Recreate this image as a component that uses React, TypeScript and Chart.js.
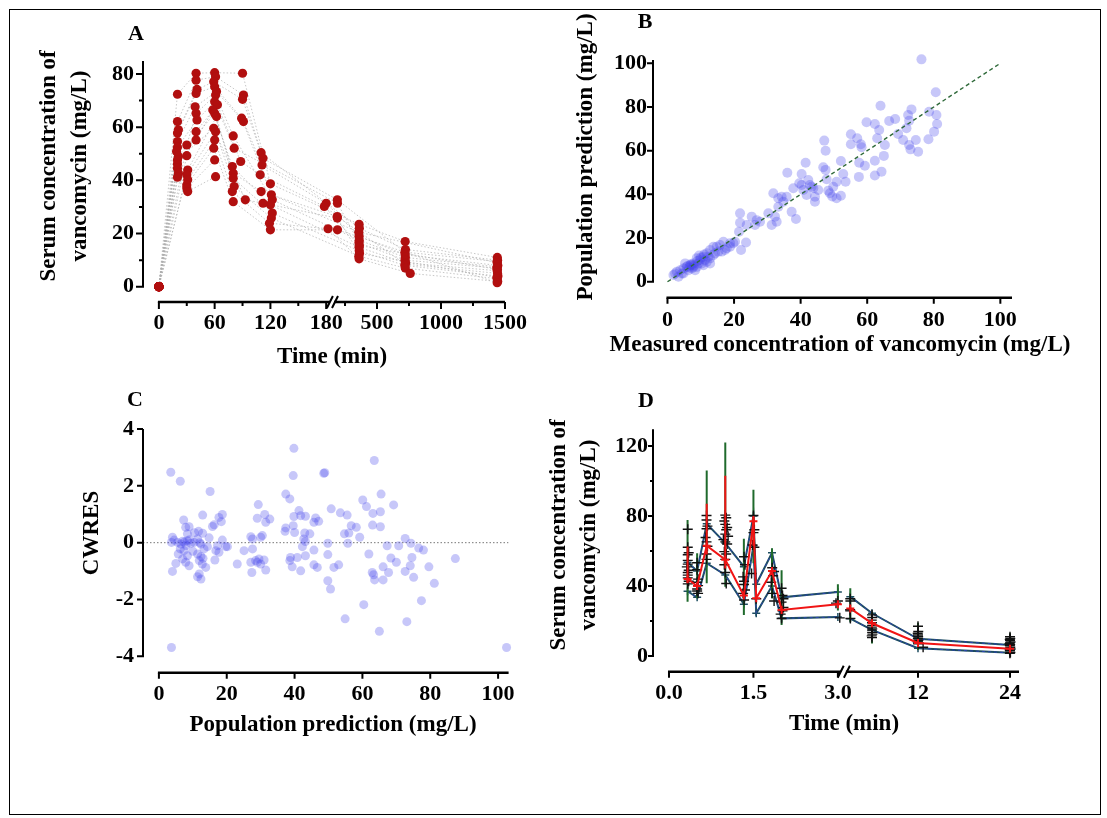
import React, { useEffect, useRef } from 'react';
import { Chart, registerables } from 'chart.js';

Chart.register(...registerables);

const W = 1107;
const H = 818;
const FONT = "'Liberation Serif', 'Times New Roman', serif";
const Y_BOX = 80; // width reserved for y tick labels
const X_BOX = 44; // height reserved for x tick labels

// ---------------- Panel A: individual concentration-time profiles (min) ----------------
const A_SUBJECT_TIMES: number[][] = [
  [0, 20, 40, 60, 90, 120, 360, 720, 1440],
  [0, 20, 40, 61, 91, 110, 362, 722, 1442],
  [0, 21, 41, 59, 90, 112, 190, 718, 1438],
  [0, 20, 40, 60, 89, 121, 358, 1440],
  [0, 20, 39, 62, 91, 111, 180, 360, 720, 1444],
  [0, 30, 40, 61, 80, 122, 361, 721, 1440],
  [0, 20, 41, 60, 81, 191, 359, 719, 1436],
  [0, 30, 40, 63, 88, 109, 178, 362, 1441],
  [0, 19, 40, 58, 79, 120, 360, 723, 1439],
  [0, 21, 60, 80, 110, 189, 720, 1442],
  [0, 31, 62, 80, 122, 361, 718, 1445],
  [0, 20, 59, 93, 112, 190, 363, 1437],
  [0, 30, 61, 81, 121, 358, 721, 1440],
  [0, 20, 31, 60, 79, 119, 182, 360, 760, 1443],
  [0, 20, 30, 59, 80, 120, 191, 1439],
  [0, 21, 30, 60],
  [0, 20, 31, 61],
];
const A_SUBJECT_CONC: number[][] = [
  [0, 72.4, 80.3, 80.5, 80.3, 38.7, 23.5, 17, 11],
  [0, 62.1, 77.7, 79, 72.1, 50.4, 22, 14, 10],
  [0, 59.0, 74.2, 77.1, 70.5, 48.3, 32.7, 13, 9.5],
  [0, 57.8, 72.7, 75.2, 63.4, 34.6, 20.5, 9],
  [0, 54.6, 67.7, 73.4, 62.1, 45.8, 31.4, 19, 12, 8],
  [0, 53.3, 65.2, 72.1, 56.7, 32.7, 17.5, 11, 7.5],
  [0, 52.5, 62.7, 69.6, 52.1, 31.4, 16.5, 10, 7],
  [0, 49.3, 58.3, 68.4, 47.1, 42.1, 30.2, 15.5, 6.5],
  [0, 50.9, 55.2, 66.5, 45.2, 30.8, 14.8, 9, 6],
  [0, 49.0, 65.2, 42.7, 35.8, 26.4, 8.5, 5],
  [0, 43.9, 64, 40.8, 27.7, 13.5, 8, 4],
  [0, 47.7, 59.6, 32.7, 31.4, 25.8, 12.5, 3.5],
  [0, 42.1, 58.3, 37.7, 25.8, 11.5, 7, 3],
  [0, 46.2, 40.2, 55.2, 35.8, 23.9, 21.8, 10.5, 5, 2],
  [0, 44.6, 38.3, 52.1, 32.0, 21.4, 21.4, 1.5],
  [0, 42.7, 37.1, 47.7],
  [0, 41.2, 35.8, 41.4],
];
const A_X_TICKS = [0, 60, 120, 180, 500, 1000, 1500];
const A_X_LABELS = ['0', '60', '120', '180', '500', '1000', '1500'];
const A_X_MINOR = [30, 90, 150, 250, 750, 1250];
const A_Y_TICKS = [0, 20, 40, 60, 80];
const A_Y_LABELS = ['0', '20', '40', '60', '80'];
const A_Y_MINOR = [10, 30, 50, 70];

// ---------------- Panel B: PRED vs observed ----------------
const B_MEASURED = [
  76.3, 80.6, 64.0, 73.3, 72.3, 72.6, 78.6, 80.8, 81.0, 59.8, 62.3, 66.6, 68.4, 63.6, 55.1, 57.0, 55.1, 58.1, 58.3, 63.0,
  65.3, 69.3, 70.8, 74.6, 72.6, 73.0, 75.3, 78.4, 80.1, 65.0, 62.3, 57.6, 59.3, 57.5, 62.3, 64.3, 47.1, 47.5, 41.5, 36.0,
  40.3, 46.8, 47.5, 52.1, 52.8, 53.5, 50.8, 47.8, 42.3, 42.8, 39.6, 37.8, 43.8, 44.3, 40.8, 41.8, 48.3, 48.8, 49.8, 50.8,
  52.1, 44.3, 35.8, 33.3, 31.8, 34.8, 37.3, 38.6, 30.3, 32.3, 32.8, 31.3, 21.8, 21.8, 23.8, 25.3, 26.8, 26.3, 27.8, 21.5,
  23.6, 22.1, 20.3, 18.8, 16.8, 15.8, 17.8, 16.3, 14.8, 13.8, 12.8, 11.8, 14.3, 10.8, 9.8, 8.8, 7.8, 6.8, 5.8, 4.8,
  3.8, 2.8, 1.8, 3.3, 4.8, 6.3, 7.3, 8.8, 10.3, 11.3, 12.3, 8.3, 5.3, 4.3, 2.3, 7.3, 7.8, 9.3, 10.8, 11.8,
  12.8, 13.8, 15.3, 17.3, 18.8, 19.8, 12.8, 40.3, 43.3, 45.3, 49.5, 33.3, 34.3, 71.8, 6.0, 7.0, 9.0, 10.0, 8.0, 6.5,
  11.0, 9.5,
];
const B_PRED = [
  101.8, 86.7, 80.6, 78.9, 76.3, 73.7, 77.8, 76.3, 72.2, 73.0, 72.2, 73.6, 74.5, 69.5, 67.5, 65.7, 62.9, 62.9, 61.6, 65.7,
  62.6, 67.6, 64.9, 64.9, 62.6, 60.6, 59.5, 65.2, 68.7, 57.6, 55.4, 54.5, 53.1, 48.0, 48.6, 50.4, 64.6, 60.0, 54.5, 49.9,
  49.3, 52.4, 51.2, 55.3, 49.3, 45.8, 45.8, 46.9, 46.6, 44.3, 45.1, 42.8, 42.8, 38.9, 42.0, 39.7, 41.7, 40.5, 43.5, 38.2,
  39.4, 36.6, 38.9, 38.2, 40.5, 36.6, 32.0, 28.7, 31.3, 29.8, 27.5, 26.0, 31.3, 27.0, 26.0, 29.8, 28.2, 26.0, 27.5, 22.9,
  18.0, 14.5, 18.3, 17.6, 18.3, 16.8, 15.3, 13.8, 16.0, 16.0, 14.5, 13.0, 13.0, 11.5, 10.0, 10.8, 8.4, 7.6, 6.8, 6.1,
  5.3, 4.6, 3.1, 2.3, 3.8, 5.3, 6.1, 6.8, 8.4, 9.9, 11.5, 5.3, 8.4, 3.8, 3.8, 7.6, 6.8, 8.4, 7.6, 9.1,
  10.7, 12.2, 13.8, 14.5, 16.0, 17.6, 8.4, 44.3, 43.5, 42.0, 39.0, 34.3, 38.9, 70.3, 7.2, 8.0, 9.5, 11.0, 7.5, 6.5,
  12.5, 12.0,
];
const B_IDENTITY = [0, 100];
const B_TICKS = [0, 20, 40, 60, 80, 100];
const B_LABELS = ['0', '20', '40', '60', '80', '100'];

// ---------------- Panel C: CWRES vs PRED ----------------
const C_PRED = [
  39.8, 63.5, 3.5, 6.3, 48.6, 48.9, 39.6, 15.1, 37.4, 38.6, 65.5, 60.1, 61.2, 69.2, 29.3, 50.8, 53.5, 55.5, 63.1, 65.3,
  12.9, 41.3, 41.8, 43.2, 39.8, 31.2, 29.0, 32.7, 31.5, 7.3, 7.9, 8.9, 8.4, 18.7, 17.7, 18.4, 16.3, 15.8, 12.9, 11.7,
  37.4, 37.2, 39.6, 40.0, 46.2, 47.1, 45.7, 54.7, 56.0, 56.7, 58.2, 63.0, 65.3, 59.2, 43.0, 44.5, 42.7, 43.2, 42.3, 27.1,
  27.6, 30.0, 30.5, 4.0, 4.5, 5.5, 3.7, 7.0, 8.4, 9.4, 10.4, 11.4, 12.4, 13.3, 14.8, 14.3, 17.3, 18.7, 19.7, 6.3,
  7.4, 5.7, 8.4, 7.0, 7.9, 8.9, 5.0, 4.0, 11.4, 12.4, 11.9, 12.8, 13.8, 11.9, 12.4, 11.4, 16.8, 17.7, 16.5, 20.2,
  23.1, 25.1, 27.6, 27.1, 28.5, 29.5, 29.0, 30.0, 31.0, 31.5, 27.4, 38.8, 40.8, 38.6, 39.3, 43.2, 45.7, 45.7, 46.7, 41.8,
  49.8, 49.8, 49.8, 50.6, 51.6, 53.0, 55.7, 61.9, 62.9, 63.3, 63.6, 66.1, 66.1, 67.7, 67.3, 68.4, 70.0, 70.7, 72.6, 74.3,
  74.6, 74.1, 72.6, 75.1, 76.6, 78.0, 79.6, 81.2, 77.4, 73.1, 65.0, 60.4, 54.9, 87.4, 102.5, 3.7, 7.5, 8.0, 9.0, 6.5,
  10.0, 10.5, 12.0, 13.0,
];
const C_CWRES = [
  3.32, 2.89, 2.48, 2.16, 2.44, 2.46, 2.36, 1.80, 1.71, 1.54, 1.71, 1.50, 1.27, 1.33, 1.34, 1.19, 1.05, 0.97, 1.03, 1.09,
  0.97, 1.13, 0.95, 0.93, 0.92, 0.99, 0.86, 0.83, 0.72, 0.80, 0.54, 0.56, 0.31, 0.99, 0.89, 0.74, 0.63, 0.57, 0.33, 0.40,
  0.52, 0.40, 0.60, 0.36, 0.87, 0.75, 0.72, 0.31, 0.34, 0.60, 0.54, 0.62, 0.56, 0.19, 0.34, 0.31, 0.13, 0.04, -0.14, 0.21,
  0.13, 0.19, 0.25, 0.19, 0.09, 0.01, 0.01, 0.05, 0.07, -0.02, 0.01, 0.13, -0.05, -0.22, 0.17, -0.14, -0.11, 0.09, -0.14, -0.22,
  -0.28, -0.40, -0.46, -0.57, -0.69, -0.81, -0.73, -1.01, -0.40, -0.49, -0.63, -0.75, -0.87, -1.10, -1.28, -1.20, -0.28, -0.34, -0.61, -0.14,
  -0.75, -0.28, -0.22, -0.69, -0.63, -0.57, -0.69, -0.75, -0.61, -0.96, -1.05, -0.52, -0.52, -0.63, -0.85, -0.46, -0.26, -0.78, -0.87, -0.99,
  -0.02, -0.42, -1.34, -1.63, -0.87, -0.78, -0.02, -0.40, -1.05, -1.13, -1.31, -0.85, -1.31, -1.05, -0.11, -0.54, -0.69, -0.11, 0.15, -0.02,
  -0.52, -0.81, -1.01, -1.22, -0.19, -0.26, -0.85, -1.43, -2.04, -2.78, -3.12, -2.18, -2.68, -0.56, -3.69, -3.69, 0.02, -0.1, 0.1, -0.05,
  -0.3, 0.35, 0.0, -0.55,
];
const C_ZERO_X = [-4.69, 103.1];
const C_X_TICKS = [0, 20, 40, 60, 80, 100];
const C_X_LABELS = ['0', '20', '40', '60', '80', '100'];
const C_Y_TICKS = [-4, -2, 0, 2, 4];
const C_Y_LABELS = ['-4', '-2', '0', '2', '4'];

// ---------------- Panel D: VPC (hours) ----------------
const VPC_T = [0.33, 0.5, 0.67, 1.0, 1.33, 1.5, 1.55, 1.83, 2.0, 3.0, 3.17, 6, 12, 24];
const VPC_P95 = [53.5, 48.5, 75.5, 64.5, 51, 80, 41, 59, 33.5, 36.5, 33.9, 24.4, 9.8, 6.3];
const VPC_P50 = [44, 40, 63, 55, 34.5, 77, 33, 48.5, 26.3, 29.5, 27.2, 18.7, 7.4, 4.2];
const VPC_P05 = [37, 33.5, 53, 46.3, 29.5, 63, 24.4, 40, 21.5, 22.3, 21.3, 14.9, 4.4, 1.8];
const CI_T = [0.33, 0.5, 0.67, 1.0, 1.33, 1.5, 1.83, 2.0, 3.0, 3.17, 6, 12, 24];
const CI_LO = [31, 33, 41.5, 39.6, 23.4, 53, 33, 17.7, 26, 19.6, 7.2, 3.4, 0.6];
const CI_HI = [77.7, 58.7, 106, 122, 67, 95, 61.5, 49, 41, 38.7, 25.3, 19, 13];
const MED_CI_T = [0.33, 0.67, 1.0, 1.5];
const MED_CI_LO = [41.5, 58, 50, 63];
const MED_CI_HI = [62.6, 87, 103, 80];
const D_X_TICKS_H = [0, 1.5, 3, 12, 24];
const D_X_LABELS = ['0.0', '1.5', '3.0', '12', '24'];
const D_Y_TICKS = [0, 40, 80, 120];
const D_Y_LABELS = ['0', '40', '80', '120'];
const D_Y_MINOR = [20, 60, 100];

// ---------------- broken-axis transforms ----------------
const A_BREAK = 185;
const aMap = (t: number) => (t <= A_BREAK ? t : 234.7 + (t - 500) * 0.1377);
const D_BREAK = 3.05;
const dMap = (t: number) => (t <= D_BREAK ? t : 4.423 + (t - 12) * 0.1362);

// ---------------- plugins ----------------
type AxisCfg = {
  x: { from: number; to: number; major: number[]; minor?: number[]; brk?: [number, number]; len: number };
  y: { from: number; to: number; major: number[]; minor?: number[]; len: number };
};

function makeAxesPlugin(cfg: AxisCfg) {
  return {
    id: 'prismAxes',
    afterDraw(chart: any) {
      const { ctx, chartArea } = chart;
      const xs = chart.scales.x;
      const ys = chart.scales.y;
      ctx.save();
      ctx.strokeStyle = '#000';
      ctx.lineCap = 'butt';
      const X = chartArea.left;
      ctx.lineWidth = 2;
      ctx.beginPath();
      ctx.moveTo(X, ys.getPixelForValue(cfg.y.to));
      ctx.lineTo(X, ys.getPixelForValue(cfg.y.from) + 1);
      cfg.y.major.forEach((v) => {
        const p = ys.getPixelForValue(v);
        ctx.moveTo(X, p);
        ctx.lineTo(X - cfg.y.len, p);
      });
      (cfg.y.minor || []).forEach((v) => {
        const p = ys.getPixelForValue(v);
        ctx.moveTo(X, p);
        ctx.lineTo(X - Math.round(cfg.y.len * 0.55), p);
      });
      ctx.stroke();
      const Y = chartArea.bottom;
      ctx.lineWidth = 2.5;
      ctx.beginPath();
      const segs: [number, number][] = cfg.x.brk
        ? [
            [cfg.x.from, cfg.x.brk[0]],
            [cfg.x.brk[1], cfg.x.to],
          ]
        : [[cfg.x.from, cfg.x.to]];
      segs.forEach(([a, b]) => {
        ctx.moveTo(xs.getPixelForValue(a) - 1, Y);
        ctx.lineTo(xs.getPixelForValue(b), Y);
      });
      ctx.stroke();
      ctx.lineWidth = 2;
      ctx.beginPath();
      cfg.x.major.forEach((v) => {
        const p = xs.getPixelForValue(v);
        ctx.moveTo(p, Y);
        ctx.lineTo(p, Y + cfg.x.len);
      });
      (cfg.x.minor || []).forEach((v) => {
        const p = xs.getPixelForValue(v);
        ctx.moveTo(p, Y);
        ctx.lineTo(p, Y + Math.round(cfg.x.len * 0.6));
      });
      if (cfg.x.brk) {
        cfg.x.brk.forEach((v) => {
          const p = xs.getPixelForValue(v);
          ctx.moveTo(p - 3, Y + 6);
          ctx.lineTo(p + 3, Y - 6);
        });
      }
      ctx.stroke();
      ctx.restore();
    },
  };
}

type TextItem = { text: string; x: number; y: number; size: number; rotate?: boolean };

function makeTextPlugin(items: TextItem[]) {
  return {
    id: 'panelText',
    afterDraw(chart: any) {
      const { ctx } = chart;
      ctx.save();
      ctx.fillStyle = '#000';
      ctx.textAlign = 'center';
      ctx.textBaseline = 'middle';
      items.forEach((it) => {
        ctx.font = `bold ${it.size}px ${FONT}`;
        ctx.save();
        ctx.translate(it.x, it.y);
        if (it.rotate) ctx.rotate(-Math.PI / 2);
        ctx.fillText(it.text, 0, 0);
        ctx.restore();
      });
      ctx.restore();
    },
  };
}

function scaleCfg(axis: 'x' | 'y', min: number, max: number, tickVals: number[], labels: string[], padding: number) {
  return {
    type: 'linear',
    min,
    max,
    grid: { display: false, drawTicks: false },
    border: { display: false },
    ticks: {
      autoSkip: false,
      padding,
      color: '#000',
      maxRotation: 0,
      minRotation: 0,
      font: { family: FONT, size: 22, weight: 'bold' },
      callback: (_v: any, i: number) => labels[i],
    },
    afterBuildTicks: (s: any) => {
      s.ticks = tickVals.map((v) => ({ value: v }));
    },
    afterFit: (s: any) => {
      if (axis === 'x') s.height = X_BOX;
      else s.width = Y_BOX;
    },
  };
}

function baseOptions(area: { l: number; t: number; r: number; b: number }, scales: any) {
  return {
    responsive: false,
    animation: false,
    devicePixelRatio: 1,
    events: [],
    layout: { padding: { left: area.l - Y_BOX, top: area.t, right: W - area.r, bottom: H - area.b - X_BOX } },
    plugins: { legend: { display: false }, tooltip: { enabled: false } },
    scales,
  };
}

// ---------------- chart builders ----------------
function buildA(canvas: HTMLCanvasElement) {
  const points: { x: number; y: number }[] = [];
  A_SUBJECT_TIMES.forEach((ts, i) => ts.forEach((t, j) => points.push({ x: aMap(t), y: A_SUBJECT_CONC[i][j] })));
  const lines = A_SUBJECT_TIMES.map((ts, i) => ({
    showLine: true,
    data: ts.map((t, j) => ({ x: aMap(t), y: A_SUBJECT_CONC[i][j] })),
    borderColor: 'rgba(175,175,175,0.7)',
    borderWidth: 1,
    borderDash: [1.5, 2],
    pointRadius: 0,
  }));
  return new Chart(canvas, {
    type: 'scatter',
    data: {
      datasets: [
        { data: points, pointRadius: 4.6, backgroundColor: '#b10f0f', borderWidth: 0, clip: false },
        ...lines,
      ],
    },
    options: baseOptions({ l: 143, t: 61, r: 506, b: 302 }, {
      x: scaleCfg('x', -17.1, 373.5, A_X_TICKS.map(aMap), A_X_LABELS, 8),
      y: scaleCfg('y', -5.75, 84.9, A_Y_TICKS, A_Y_LABELS, 9),
    }) as any,
    plugins: [
      makeAxesPlugin({
        x: { from: 0, to: aMap(1500), major: A_X_TICKS.map(aMap), minor: A_X_MINOR.map(aMap), brk: [184, 189.5], len: 7 },
        y: { from: 0, to: 84.9, major: A_Y_TICKS, minor: A_Y_MINOR, len: 7 },
      }),
      makeTextPlugin([
        { text: 'A', x: 136, y: 34, size: 22 },
        { text: 'Time (min)', x: 332, y: 357, size: 23 },
        { text: 'Serum concentration of', x: 49, y: 166, size: 23, rotate: true },
        { text: 'vancomycin (mg/L)', x: 80, y: 166, size: 23, rotate: true },
      ]),
    ],
  });
}

function buildB(canvas: HTMLCanvasElement) {
  const pts = B_MEASURED.map((m, i) => ({ x: m, y: B_PRED[i] }));
  return new Chart(canvas, {
    type: 'scatter',
    data: {
      datasets: [
        {
          showLine: true,
          data: B_IDENTITY.map((v) => ({ x: v, y: v })),
          borderColor: '#2f6a3a',
          borderWidth: 1.4,
          borderDash: [4, 3],
          pointRadius: 0,
        },
        { data: pts, pointRadius: 5, backgroundColor: 'rgba(70,70,235,0.3)', borderWidth: 0, clip: false },
      ],
    },
    options: baseOptions({ l: 653, t: 60, r: 1012, b: 297.7 }, {
      x: scaleCfg('x', -4.35, 103.5, B_TICKS, B_LABELS, 9),
      y: scaleCfg('y', -7.3, 101.5, B_TICKS, B_LABELS, 6),
    }) as any,
    plugins: [
      makeAxesPlugin({
        x: { from: 0, to: 103.5, major: B_TICKS, len: 6 },
        y: { from: 0, to: 101.5, major: B_TICKS, len: 6 },
      }),
      makeTextPlugin([
        { text: 'B', x: 645, y: 22, size: 22 },
        { text: 'Measured concentration of vancomycin (mg/L)', x: 840, y: 345, size: 23 },
        { text: 'Population prediction (mg/L)', x: 586, y: 157, size: 23, rotate: true },
      ]),
    ],
  });
}

function buildC(canvas: HTMLCanvasElement) {
  const pts = C_PRED.map((p, i) => ({ x: p, y: C_CWRES[i] }));
  return new Chart(canvas, {
    type: 'scatter',
    data: {
      datasets: [
        { data: pts, pointRadius: 4.5, backgroundColor: 'rgba(70,70,235,0.3)', borderWidth: 0, clip: false },
        {
          showLine: true,
          data: C_ZERO_X.map((x) => ({ x, y: 0 })),
          borderColor: '#777',
          borderWidth: 1,
          borderDash: [1.5, 2],
          pointRadius: 0,
        },
      ],
    },
    options: baseOptions({ l: 143, t: 429, r: 508.6, b: 672.7 }, {
      x: scaleCfg('x', -4.69, 103.1, C_X_TICKS, C_X_LABELS, 8),
      y: scaleCfg('y', -4.575, 4, C_Y_TICKS, C_Y_LABELS, 9),
    }) as any,
    plugins: [
      makeAxesPlugin({
        x: { from: 0, to: 103.1, major: C_X_TICKS, len: 6 },
        y: { from: -4, to: 4, major: C_Y_TICKS, len: 6 },
      }),
      makeTextPlugin([
        { text: 'C', x: 135, y: 400, size: 22 },
        { text: 'Population prediction (mg/L)', x: 333, y: 725, size: 23 },
        { text: 'CWRES', x: 92, y: 533, size: 23, rotate: true },
      ]),
    ],
  });
}

function lineData(ts: number[], vs: number[]) {
  const out: { x: number; y: number | null }[] = [];
  ts.forEach((t, i) => {
    if (i > 0 && ts[i - 1] <= D_BREAK && t > D_BREAK) out.push({ x: dMap(D_BREAK), y: null });
    out.push({ x: dMap(t), y: vs[i] });
  });
  return out;
}

function spikeData(ts: number[], lo: number[], hi: number[]) {
  const out: { x: number; y: number | null }[] = [];
  ts.forEach((t, i) => {
    out.push({ x: dMap(t), y: lo[i] });
    out.push({ x: dMap(t), y: hi[i] });
    out.push({ x: dMap(t), y: null });
  });
  return out;
}

function buildD(canvas: HTMLCanvasElement) {
  const obs: { x: number; y: number }[] = [];
  A_SUBJECT_TIMES.forEach((ts, i) =>
    ts.forEach((t, j) => {
      if (t > 0) obs.push({ x: dMap(t / 60), y: A_SUBJECT_CONC[i][j] });
    })
  );
  const teal = '#1d4d60';
  const dash = '#2c44b0';
  const green = '#1f6a2c';
  return new Chart(canvas, {
    type: 'scatter',
    data: {
      datasets: [
        {
          showLine: true,
          data: lineData(VPC_T, VPC_P50),
          borderColor: '#f01414',
          borderWidth: 2,
          pointStyle: 'cross',
          pointRadius: 4,
          pointBorderColor: '#f01414',
          pointBorderWidth: 2,
        },
        { showLine: true, data: spikeData(MED_CI_T, MED_CI_LO, MED_CI_HI), borderColor: '#f01414', borderWidth: 2, pointRadius: 0 },
        { data: obs, pointStyle: 'cross', pointRadius: 5, borderColor: '#111', borderWidth: 1.4, clip: false },
        { showLine: true, data: spikeData(CI_T, CI_LO, CI_HI), borderColor: green, borderWidth: 2, pointRadius: 0 },
        { showLine: true, data: lineData(VPC_T, VPC_P95), borderColor: dash, borderWidth: 1, borderDash: [3, 3], pointRadius: 0 },
        { showLine: true, data: lineData(VPC_T, VPC_P05), borderColor: dash, borderWidth: 1, borderDash: [3, 3], pointRadius: 0 },
        {
          showLine: true,
          data: lineData(VPC_T, VPC_P95),
          borderColor: teal,
          borderWidth: 2,
          pointStyle: 'cross',
          pointRadius: 4,
          pointBorderColor: teal,
          pointBorderWidth: 1.5,
        },
        {
          showLine: true,
          data: lineData(VPC_T, VPC_P05),
          borderColor: teal,
          borderWidth: 2,
          pointStyle: 'cross',
          pointRadius: 4,
          pointBorderColor: teal,
          pointBorderWidth: 1.5,
        },
      ],
    },
    options: baseOptions({ l: 653, t: 429.3, r: 1019, b: 671.7 }, {
      x: scaleCfg('x', -0.284, 6.217, D_X_TICKS_H.map(dMap), D_X_LABELS, 8),
      y: scaleCfg('y', -8.97, 129.5, D_Y_TICKS, D_Y_LABELS, 5),
    }) as any,
    plugins: [
      makeAxesPlugin({
        x: { from: 0, to: 6.217, major: D_X_TICKS_H.map(dMap), brk: [3.05, 3.16], len: 6 },
        y: { from: 0, to: 129.5, major: D_Y_TICKS, minor: D_Y_MINOR, len: 5 },
      }),
      makeTextPlugin([
        { text: 'D', x: 646, y: 401, size: 22 },
        { text: 'Time (min)', x: 844, y: 724, size: 23 },
        { text: 'Serum concentration of', x: 559, y: 535, size: 23, rotate: true },
        { text: 'vancomycin (mg/L)', x: 589, y: 535, size: 23, rotate: true },
      ]),
    ],
  });
}

function Panel({ build }: { build: (c: HTMLCanvasElement) => Chart }) {
  const ref = useRef<HTMLCanvasElement | null>(null);
  useEffect(() => {
    if (!ref.current) return;
    const chart = build(ref.current);
    return () => chart.destroy();
  }, [build]);
  return (
    <canvas
      ref={ref}
      width={W}
      height={H}
      style={{ position: 'absolute', left: 0, top: 0, width: W, height: H }}
    />
  );
}

export default function App() {
  return (
    <div style={{ position: 'absolute', left: 0, top: 0, width: W, height: H, background: '#fff', overflow: 'hidden' }}>
      <div
        style={{
          position: 'absolute',
          left: 9,
          top: 9,
          width: 1092,
          height: 806,
          border: '1px solid #000',
          boxSizing: 'border-box',
        }}
      />
      <Panel build={buildA} />
      <Panel build={buildB} />
      <Panel build={buildC} />
      <Panel build={buildD} />
    </div>
  );
}
